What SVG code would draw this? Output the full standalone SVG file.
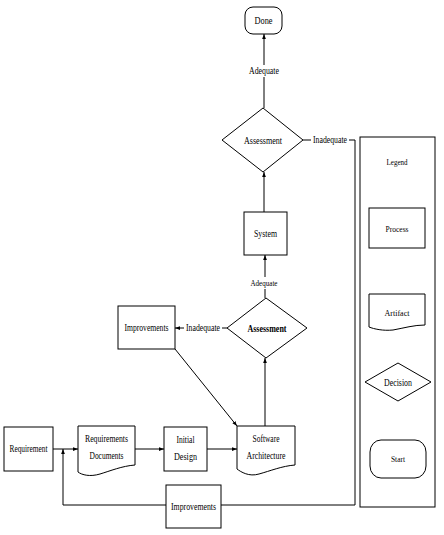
<svg xmlns="http://www.w3.org/2000/svg" width="444" height="535" viewBox="0 0 444 535">
<defs>
<style>
text{font-family:"Liberation Serif","Times New Roman",serif;font-size:9.5px;fill:#000;text-anchor:middle;dominant-baseline:central}
.shape{fill:#fff;stroke:#000;stroke-width:1}
.conn{fill:none;stroke:#000;stroke-width:1}
.lbl{fill:#fff;stroke:none}
.sm{font-size:8.5px}
.b{font-weight:bold}
</style>
<marker id="ah" viewBox="0 0 8 6" refX="8" refY="3" markerWidth="5" markerHeight="4" orient="auto" markerUnits="userSpaceOnUse">
<path d="M0,0 L8,3 L0,6 Z" fill="#000"/>
</marker>
</defs>
<rect width="444" height="535" fill="#fff"/>

<g id="connectors">
<line class="conn" x1="53" y1="449" x2="78" y2="449" marker-end="url(#ah)"/>
<line class="conn" x1="135" y1="449" x2="164" y2="449" marker-end="url(#ah)"/>
<line class="conn" x1="207" y1="449" x2="237" y2="449" marker-end="url(#ah)"/>
<line class="conn" x1="265" y1="426" x2="265" y2="358" marker-end="url(#ah)"/>
<line class="conn" x1="265" y1="298" x2="265" y2="255" marker-end="url(#ah)"/>
<line class="conn" x1="227" y1="328" x2="175" y2="328" marker-end="url(#ah)"/>
<line class="conn" x1="175" y1="349" x2="237" y2="426" marker-end="url(#ah)"/>
<line class="conn" x1="264" y1="212" x2="264" y2="172" marker-end="url(#ah)"/>
<line class="conn" x1="264" y1="108" x2="264" y2="34" marker-end="url(#ah)"/>
<polyline class="conn" points="303,140 355,140 355,505 63,505 63,449" marker-end="url(#ah)"/>
<rect class="lbl" x="247" y="65" width="34" height="12"/>
<text x="264" y="71" textLength="30" lengthAdjust="spacingAndGlyphs">Adequate</text>
<rect class="lbl" x="311" y="134" width="38" height="12"/>
<text x="330" y="140" textLength="34" lengthAdjust="spacingAndGlyphs">Inadequate</text>
<rect class="lbl" x="249" y="277" width="31" height="12"/>
<text class="sm" x="264" y="283" textLength="27" lengthAdjust="spacingAndGlyphs">Adequate</text>
<rect class="lbl" x="184" y="322" width="38" height="12"/>
<text x="203" y="328" textLength="34" lengthAdjust="spacingAndGlyphs">Inadequate</text>
</g>

<g id="done">
<rect class="shape" x="245" y="7" width="37" height="27" rx="8" ry="8"/>
<text x="263.5" y="21" textLength="18" lengthAdjust="spacingAndGlyphs">Done</text>
</g>

<g id="assessment-1">
<polygon class="shape" points="263,108 303,140 263,172 222,140"/>
<text x="263" y="141" textLength="38" lengthAdjust="spacingAndGlyphs">Assessment</text>
</g>

<g id="system">
<rect class="shape" x="244" y="212" width="43" height="43"/>
<text x="265.5" y="234" textLength="23" lengthAdjust="spacingAndGlyphs">System</text>
</g>

<g id="assessment-2">
<polygon class="shape" points="266,298 307,328 266,358 227,328"/>
<text class="b" x="267" y="329" textLength="39" lengthAdjust="spacingAndGlyphs">Assessment</text>
</g>

<g id="improvements-1">
<rect class="shape" x="118" y="306" width="57" height="43"/>
<text x="146.5" y="328" textLength="44" lengthAdjust="spacingAndGlyphs">Improvements</text>
</g>

<g id="requirement">
<rect class="shape" x="4" y="427" width="49" height="44"/>
<text x="28.5" y="449" textLength="38" lengthAdjust="spacingAndGlyphs">Requirement</text>
</g>

<g id="requirements-documents">
<path class="shape" d="M78,426 H135 V465 C122,466 110,471 100,474 C90,477 82,475 78,472 Z"/>
<text x="106.5" y="439" textLength="43" lengthAdjust="spacingAndGlyphs">Requirements</text>
<text x="106.5" y="456" textLength="34" lengthAdjust="spacingAndGlyphs">Documents</text>
</g>

<g id="initial-design">
<rect class="shape" x="164" y="427" width="43" height="44"/>
<text x="185.5" y="440" textLength="18" lengthAdjust="spacingAndGlyphs">Initial</text>
<text x="185.5" y="457" textLength="23" lengthAdjust="spacingAndGlyphs">Design</text>
</g>

<g id="software-architecture">
<path class="shape" d="M237,426 H295 V465 C282,466 270,471 259,474 C249,477 241,472 237,469 Z"/>
<text x="266" y="439" textLength="27" lengthAdjust="spacingAndGlyphs">Software</text>
<text x="266" y="456" textLength="39" lengthAdjust="spacingAndGlyphs">Architecture</text>
</g>

<g id="improvements-2">
<rect class="shape" x="166" y="485" width="55" height="43"/>
<text x="193.5" y="507" textLength="45" lengthAdjust="spacingAndGlyphs">Improvements</text>
</g>

<g id="legend">
<rect class="shape" x="360" y="137" width="75" height="370"/>
<text class="sm" x="397" y="162" textLength="21" lengthAdjust="spacingAndGlyphs">Legend</text>
<g id="legend-process">
<rect class="shape" x="369" y="208" width="56" height="40"/>
<text class="sm" x="397" y="229" textLength="23" lengthAdjust="spacingAndGlyphs">Process</text>
</g>
<g id="legend-artifact">
<path class="shape" d="M369,294 H425 V325 C414,325 404,328 393,330 C383,331 374,329 369,327 Z"/>
<text class="sm" x="397" y="313" textLength="25" lengthAdjust="spacingAndGlyphs">Artifact</text>
</g>
<g id="legend-decision">
<polygon class="shape" points="398,363 431,382 398,401 365,382"/>
<text x="398" y="383" textLength="28" lengthAdjust="spacingAndGlyphs">Decision</text>
</g>
<g id="legend-start">
<rect class="shape" x="370" y="440" width="56" height="38" rx="11" ry="12"/>
<text class="sm" x="398" y="459" textLength="14" lengthAdjust="spacingAndGlyphs">Start</text>
</g>
</g>
</svg>
